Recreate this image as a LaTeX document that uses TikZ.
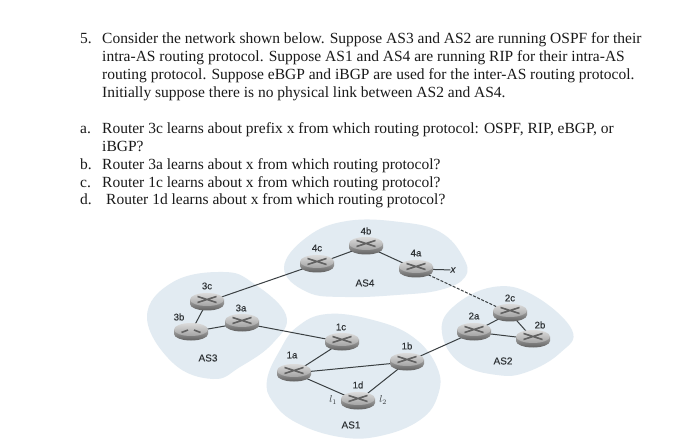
\documentclass[tikz,border=0pt]{standalone}
\usepackage{fontspec}
\setmainfont{Liberation Serif}
\newfontfamily\lblfont{Liberation Sans}[FakeBold=0.35]
\usetikzlibrary{shapes.geometric}
\definecolor{blob}{HTML}{E2EBF2}
\definecolor{wire}{HTML}{3A3F42}
\definecolor{lbl}{HTML}{2E3235}
\definecolor{txt}{HTML}{1A1A1A}
\tikzset{
  qtext/.style={anchor=base west,inner sep=0pt,text=txt,font=\fontsize{15.5}{18}\selectfont},
  rt/.style={shape=ellipse,minimum width=24,minimum height=10,inner sep=0pt},
  lab/.style={inner sep=0pt,text=lbl,font=\lblfont\fontsize{9.6}{10}\selectfont},
  aslab/.style={inner sep=0pt,text=lbl,font=\lblfont\fontsize{10}{10}\selectfont},
  link/.style={draw=wire,line width=1pt},
  as/.style={fill=blob,draw=none},
  rbody/.pic={
    \shade[top color=black!35,bottom color=black!62] (-17,-2.5) -- (-17,2) arc[start angle=180,end angle=0,x radius=17,y radius=6.5] -- (17,-2.5) -- cycle;
    \shade[top color=black!14,bottom color=black!36] (0,-2.5) circle [x radius=17,y radius=6.5];
  },
  pics/router/.style={code={
    \pic {rbody};
    \draw[black!62,line width=1.6pt] (-9.5,-5.5) -- (9.5,0.5) (-9.5,0.5) -- (9.5,-5.5);
  }},
  pics/brouter/.style={code={
    \pic {rbody};
    \draw[black!62,line width=1.6pt] (-9.5,0.5) -- (-3,-2) (3,-2) -- (9.5,0.5);
  }},
}
\begin{document}
\begin{tikzpicture}[x=1pt,y=-1pt]
\useasboundingbox (0,0) rectangle (680,446);
\fill[white] (0,0) rectangle (680,446);

% autonomous systems
\fill[as] plot[smooth cycle,tension=0.7] coordinates {(147,317) (173,282) (223,272) (253,283) (286,315) (273,343) (240,367) (213,379) (173,363)};
\fill[as] plot[smooth cycle,tension=0.7] coordinates {(284,268) (307,237) (347,221) (400,222) (440,232) (463,257) (465,277) (440,290) (397,295) (345,297) (307,292)};
\fill[as] plot[smooth cycle,tension=0.7] coordinates {(267,380) (280,350) (297,327) (327,314) (373,320) (413,337) (437,367) (438,395) (420,420) (380,436) (340,437) (297,423) (273,402)};
\fill[as] plot[smooth cycle,tension=0.7] coordinates {(442,333) (453,307) (493,287) (533,295) (572,330) (560,353) (527,372) (497,375) (460,363)};

% routers (anchors for the links)
\node[rt] (3c) at (207,302) {};
\node[rt] (3b) at (191,332) {};
\node[rt] (3a) at (242,323) {};
\node[rt] (4c) at (317,264) {};
\node[rt] (4b) at (366,246) {};
\node[rt] (4a) at (416,269) {};
\node[rt] (1c) at (342,342) {};
\node[rt] (1a) at (294,373) {};
\node[rt] (1d) at (358,401) {};
\node[rt] (1b) at (407,362) {};
\node[rt] (2a) at (474,332) {};
\node[rt] (2c) at (510,313) {};
\node[rt] (2b) at (533,339) {};
\node[aslab,font=\lblfont\itshape\fontsize{10}{10}\selectfont] (x) at (453,270) {x};

% links
\draw[link] (3c) -- (3b);
\draw[link] (3b) -- (3a);
\draw[link] (3c) -- (4c);
\draw[link] (3a) -- (1c);
\draw[link] (4c) -- (4b);
\draw[link] (4b) -- (4a);
\draw[link] (4a) -- (x);
\draw[link,dash pattern=on 3pt off 1.5pt] (4a) -- (2c);
\draw[link] (1c) -- (1a);
\draw[link] (1a) -- (1b);
\draw[link] (1a) -- (1d);
\draw[link] (1d) -- (1b);
\draw[link] (1b) -- (2a);
\draw[link] (2a) -- (2c);
\draw[link] (2a) -- (2b);
\draw[link] (2c) -- (2b);

% router bodies
\foreach \px/\py in {207/302,242/323,317/264,366/246,416/269,342/342,294/373,358/401,407/362,474/332,510/313,533/339}
  \pic at (\px,\py) {router};
\pic at (191,332) {brouter};

% router labels
\node[lab] (l3c) at (207,286) {3c};
\node[lab] (l3a) at (241,308) {3a};
\node[lab] (l3b) at (179,317) {3b};
\node[lab] (l4c) at (317,248) {4c};
\node[lab] (l4b) at (366,231) {4b};
\node[lab] (l4a) at (416,253) {4a};
\node[lab] (l1c) at (341,327) {1c};
\node[lab] (l1a) at (292,355) {1a};
\node[lab] (l1d) at (358,385) {1d};
\node[lab] (l1b) at (407,346) {1b};
\node[lab] (l2a) at (474,316) {2a};
\node[lab] (l2c) at (510,298) {2c};
\node[lab] (l2b) at (540,325) {2b};
\node[lab,font=\lblfont\itshape\fontsize{9.6}{10}\selectfont] (li1) at (333,400) {$l_1$};
\node[lab,font=\lblfont\itshape\fontsize{9.6}{10}\selectfont] (li2) at (383,400) {$l_2$};

% AS labels
\node[aslab] (as3) at (208,358) {AS3};
\node[aslab] (as4) at (365,283) {AS4};
\node[aslab] (as1) at (351,425) {AS1};
\node[aslab] (as2) at (503,361) {AS2};

% question text
\node[qtext] (n5) at (80,44) {5.};
\node[qtext] (q1) at (102,44) {Consider the network shown below. Suppose AS3 and AS2 are running OSPF for their};
\node[qtext] (q2) at (102,62) {intra-AS routing protocol. Suppose AS1 and AS4 are running RIP for their intra-AS};
\node[qtext] (q3) at (102,80) {routing protocol. Suppose eBGP and iBGP are used for the inter-AS routing protocol.};
\node[qtext] (q4) at (102,98) {Initially suppose there is no physical link between AS2 and AS4.};
\node[qtext] (na) at (80,134) {a.};
\node[qtext] (a1) at (102,134) {Router 3c learns about prefix x from which routing protocol: OSPF, RIP, eBGP, or};
\node[qtext] (a2) at (102,152) {iBGP?};
\node[qtext] (nb) at (80,170) {b.};
\node[qtext] (b1) at (102,170) {Router 3a learns about x from which routing protocol?};
\node[qtext] (nc) at (80,188) {c.};
\node[qtext] (c1) at (102,188) {Router 1c learns about x from which routing protocol?};
\node[qtext] (nd) at (80,205) {d.};
\node[qtext] (d1) at (106,205) {Router 1d learns about x from which routing protocol?};
\end{tikzpicture}
\end{document}
